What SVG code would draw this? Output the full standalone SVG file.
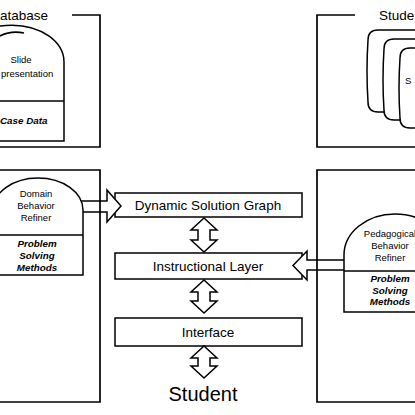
<svg xmlns="http://www.w3.org/2000/svg" width="415" height="415" viewBox="0 0 415 415">
<style>
.c{fill:none;stroke:#000;stroke-width:1.7}
.b{fill:#fff;stroke:#000;stroke-width:1.5}
.a{fill:#fff;stroke:#000;stroke-width:1.5;stroke-linejoin:miter}
.t{font-family:"Liberation Sans",Arial,sans-serif;fill:#000}
.s{font-size:9.5px}
.bi{font-size:9.8px;font-weight:bold;font-style:italic}
.m{font-size:13.5px}
</style>
<rect width="415" height="415" fill="#fff"/>
<g id="dsg">
<rect class="b" x="115" y="193" width="187" height="24"/>
<text class="t m" x="208" y="210" text-anchor="middle">Dynamic Solution Graph</text>
</g>
<g id="instructional-layer">
<rect class="b" x="115" y="253" width="187" height="26"/>
<text class="t m" x="208" y="271" text-anchor="middle">Instructional Layer</text>
</g>
<g id="interface">
<rect class="b" x="115" y="318" width="187" height="28"/>
<text class="t m" x="208" y="337" text-anchor="middle">Interface</text>
</g>
<g id="student">
<text class="t" x="203" y="401" font-size="20" text-anchor="middle">Student</text>
</g>
<g id="connectors">
<path class="a" d="M204,218 L217,230 H210 V240 H217 L204,252 L191,240 H198 V230 H191 Z"/>
<path class="a" d="M204,280 L217,292 H210 V301 H217 L204,313 L191,301 H198 V292 H191 Z"/>
<path class="a" d="M204,346 L217,358 H210 V366 H217 L204,378 L191,366 H198 V358 H191 Z"/>
<path class="a" d="M76,201 H107 V190 L121,206 L107,222 V212 H76 Z"/>
<path class="a" d="M350,260 H307 V251 L293,265.5 L307,280 V270 H350 Z"/>
</g>
<g id="database">
<path class="c" d="M72,15 H100 V147 H-5"/>
<text class="t" x="0" y="20" font-size="13.5">atabase</text>
<path class="b" d="M-40,141 V62 A48,34 0 0 1 64,62 V141 Z"/>
<path class="c" d="M-2,37 Q10,30 24,33" stroke-width="1.3"/>
<line class="c" x1="-40" y1="101" x2="64" y2="101"/>
<text class="t s" x="21" y="63" text-anchor="middle">Slide</text>
<text class="t s" x="1" y="77">presentation</text>
<text class="t bi" x="0" y="124">Case Data</text>
</g>
<g id="student-models">
<path class="c" d="M355,15 H317 V147 H420"/>
<text class="t" x="379" y="20" font-size="13.5">Stude</text>
<path class="b" d="M425,30 H378 Q368,30 368,40 Q366,71 368,102 Q368,112 378,112 H425 Z"/>
<path class="b" d="M425,39 H394 Q384,39 384,49 Q382,80 384,110 Q384,120 394,120 H425 Z"/>
<path class="b" d="M425,48 H410 Q400,48 400,58 Q398,88 400,118 Q400,128 410,128 H425 Z"/>
<text class="t s" x="405" y="84">S</text>
</g>
<g id="domain-refiner">
<path class="c" d="M-5,170 H100 V402 H-5"/>
<path class="b" d="M-10,275 V210 H-7 A45,32 0 0 1 83,210 V275 Z"/>
<line class="c" x1="-10" y1="235" x2="83" y2="235"/>
<text class="t s" x="36" y="197" text-anchor="middle">Domain</text>
<text class="t s" x="36" y="209" text-anchor="middle">Behavior</text>
<text class="t s" x="36" y="221" text-anchor="middle">Refiner</text>
<text class="t bi" x="37" y="247" text-anchor="middle">Problem</text>
<text class="t bi" x="37" y="259" text-anchor="middle">Solving</text>
<text class="t bi" x="37" y="271" text-anchor="middle">Methods</text>
</g>
<g id="pedagogical-refiner">
<path class="c" d="M420,170 H317 V402 H420"/>
<path class="b" d="M344,312 V255 A51,41 0 0 1 446,255 V312 Z"/>
<line class="c" x1="344" y1="271" x2="420" y2="271"/>
<text class="t s" x="390" y="237" text-anchor="middle">Pedagogical</text>
<text class="t s" x="390" y="249" text-anchor="middle">Behavior</text>
<text class="t s" x="390" y="261" text-anchor="middle">Refiner</text>
<text class="t bi" x="390" y="282" text-anchor="middle">Problem</text>
<text class="t bi" x="390" y="294" text-anchor="middle">Solving</text>
<text class="t bi" x="390" y="305" text-anchor="middle">Methods</text>
</g>
</svg>
